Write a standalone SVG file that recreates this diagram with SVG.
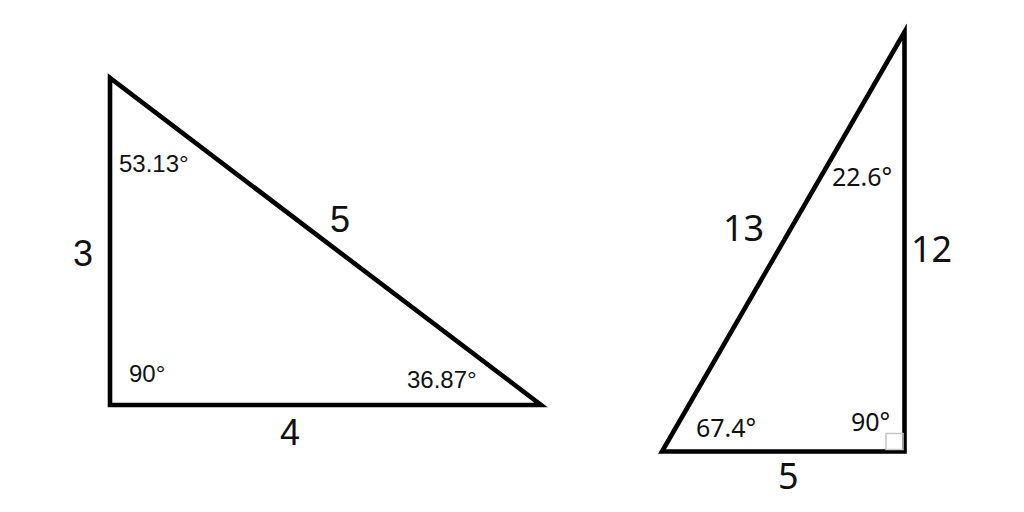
<svg xmlns="http://www.w3.org/2000/svg" width="1024" height="512" viewBox="0 0 1024 512">
<style>
.tri{fill:none;stroke:#000;stroke-width:4.6;stroke-linejoin:miter;stroke-miterlimit:20}
.a{font-family:"Liberation Sans",Arial,sans-serif;font-size:24px;fill:#111}
.s{font-family:"Liberation Sans",Arial,sans-serif;font-size:36px;fill:#111}
.ra{font-family:"Noto Sans",sans-serif;font-size:25px;fill:#111}
.rs{font-family:"Noto Sans",sans-serif;font-size:36px;fill:#111}
</style>
<rect width="1024" height="512" fill="#fff"/>
<g id="left-triangle">
<polygon class="tri" points="110,78 110,405 541,405"/>
<text class="a" x="119" y="172">53.13°</text>
<text class="s" x="330" y="232">5</text>
<text class="s" x="73" y="266">3</text>
<text class="a" x="129" y="382">90°</text>
<text class="a" x="407" y="388">36.87°</text>
<text class="s" x="280" y="445">4</text>
</g>
<g id="right-triangle">
<polygon class="tri" points="904.5,32 662,451.5 904.5,451.5"/>
<rect x="886" y="433.5" width="17" height="16" fill="none" stroke="#c8c8c8" stroke-width="1.5"/>
<text class="ra" x="696" y="437">67.4°</text>
<text class="ra" x="851" y="430.5">90°</text>
<text class="rs" x="778" y="489">5</text>
<text class="ra" x="832" y="186">22.6°</text>
<text class="rs" x="723" y="241">13</text>
<text class="rs" x="911" y="262">12</text>
</g>
</svg>
